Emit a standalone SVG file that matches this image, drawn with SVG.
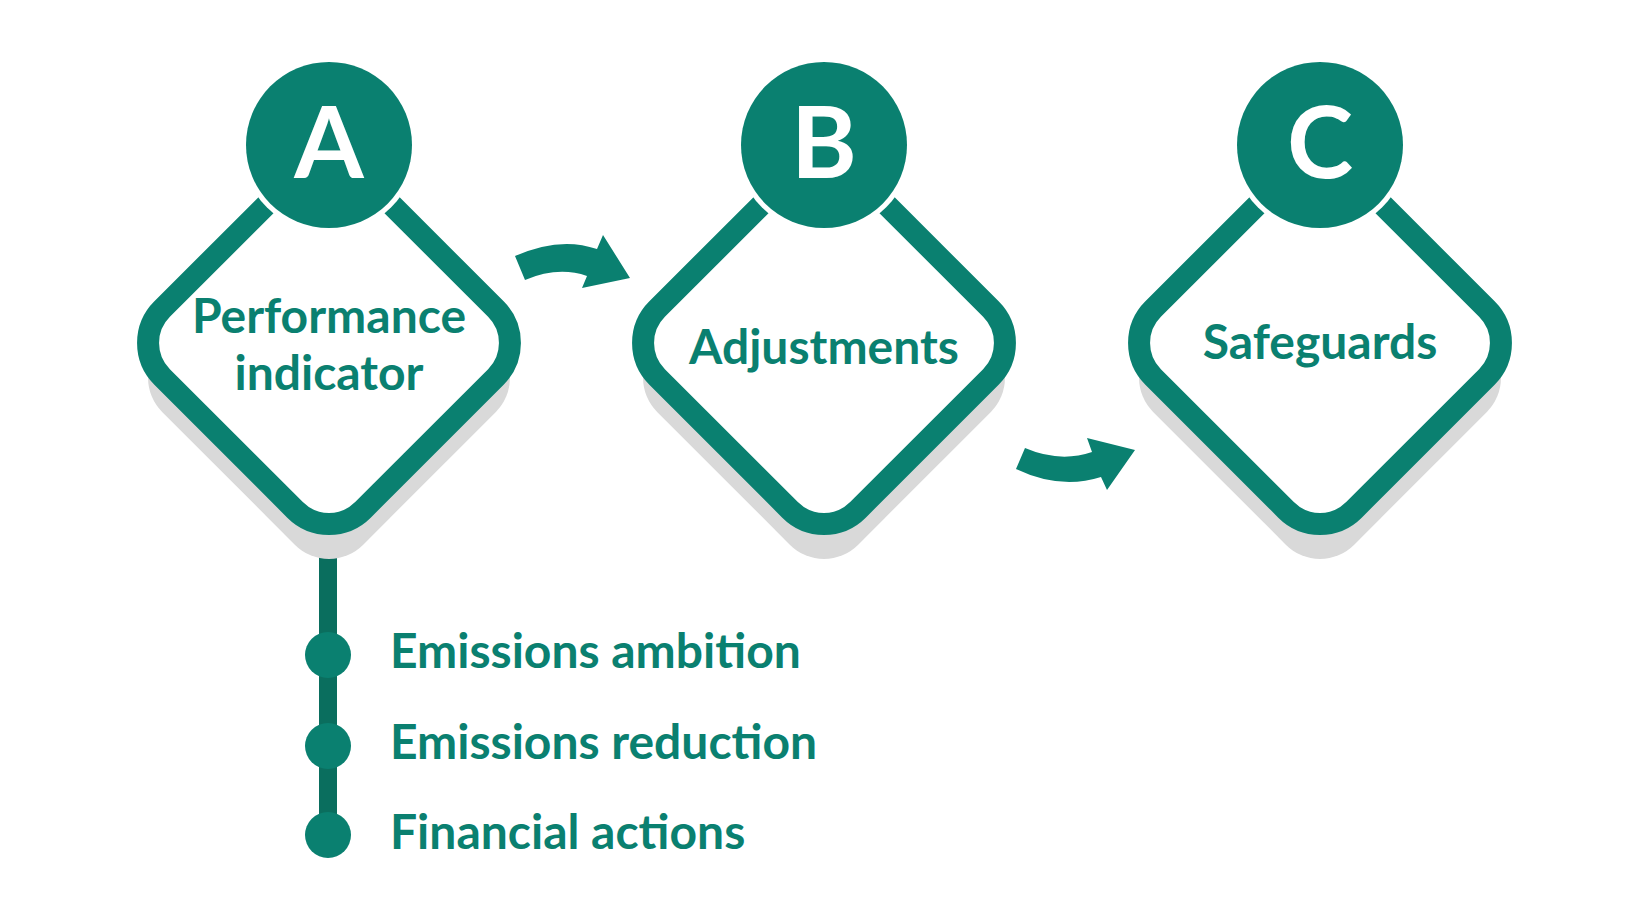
<svg xmlns="http://www.w3.org/2000/svg" width="1632" height="918" viewBox="0 0 1632 918">
<style>
.lbl{font-family:Lato,"Liberation Sans",sans-serif;font-weight:700;fill:#0a8070;text-anchor:middle;font-size:48px}
.let{font-family:Lato,"Liberation Sans",sans-serif;font-weight:700;fill:#fff;text-anchor:middle;font-size:100px}
.item{font-family:Lato,"Liberation Sans",sans-serif;font-weight:700;fill:#0a8070;font-size:48px}
</style>
<defs>
<linearGradient id="ring" x1="0" y1="149" x2="0" y2="538" gradientUnits="userSpaceOnUse">
<stop offset="0.6" stop-color="#0a8070"/><stop offset="0.6" stop-color="#0a6e5e"/>
</linearGradient>
<g id="dia">
<rect x="-142" y="-142" width="284" height="284" rx="48" transform="translate(0,35) rotate(45)" fill="#d9d9d9"/>
<rect x="-142" y="-142" width="284" height="284" rx="48" transform="rotate(45)" fill="#fff" stroke="url(#ring)" stroke-width="22"/>
</g>
</defs>
<rect width="1632" height="918" fill="#fff"/>
<g id="list">
<rect x="319" y="530" width="18" height="305" fill="#0a6e5e"/>
<circle cx="328" cy="655" r="23" fill="#0a8070"/>
<circle cx="328" cy="746" r="23" fill="#0a8070"/>
<circle cx="328" cy="835" r="23" fill="#0a8070"/>
<text class="item" x="390" y="668">Emissions ambition</text>
<text class="item" x="390" y="759">Emissions reduction</text>
<text class="item" x="390" y="849">Financial actions</text>
</g>
<g id="nodeA" transform="translate(329,0)">
<use href="#dia" transform="translate(0,343)"/>
<circle cx="0" cy="145" r="88" fill="#fff"/>
<circle cx="0" cy="145" r="83" fill="#0a8070"/>
<text class="let" x="0" y="178">A</text>
<text class="lbl" x="0" y="333">Performance</text>
<text class="lbl" x="0" y="390">indicator</text>
</g>
<g id="nodeB" transform="translate(824,0)">
<use href="#dia" transform="translate(0,343)"/>
<circle cx="0" cy="145" r="88" fill="#fff"/>
<circle cx="0" cy="145" r="83" fill="#0a8070"/>
<text class="let" x="0" y="178">B</text>
<text class="lbl" x="0" y="364">Adjustments</text>
</g>
<g id="nodeC" transform="translate(1320,0)">
<use href="#dia" transform="translate(0,343)"/>
<circle cx="0" cy="145" r="88" fill="#fff"/>
<circle cx="0" cy="145" r="83" fill="#0a8070"/>
<text class="let" x="0" y="178">C</text>
<text class="lbl" x="0" y="359">Safeguards</text>
</g>
<g id="connectors" fill="#0a8070">
<path d="M515,256 Q560,236 597,249 L603,235 L630,278 L582,288 L587,276 Q558,266 525,280 Z"/>
<path d="M1025,448 Q1060,463 1092,452 L1087,438 L1135,450 L1107,490 L1101,477 Q1060,490 1016,469 Z"/>
</g>
</svg>
